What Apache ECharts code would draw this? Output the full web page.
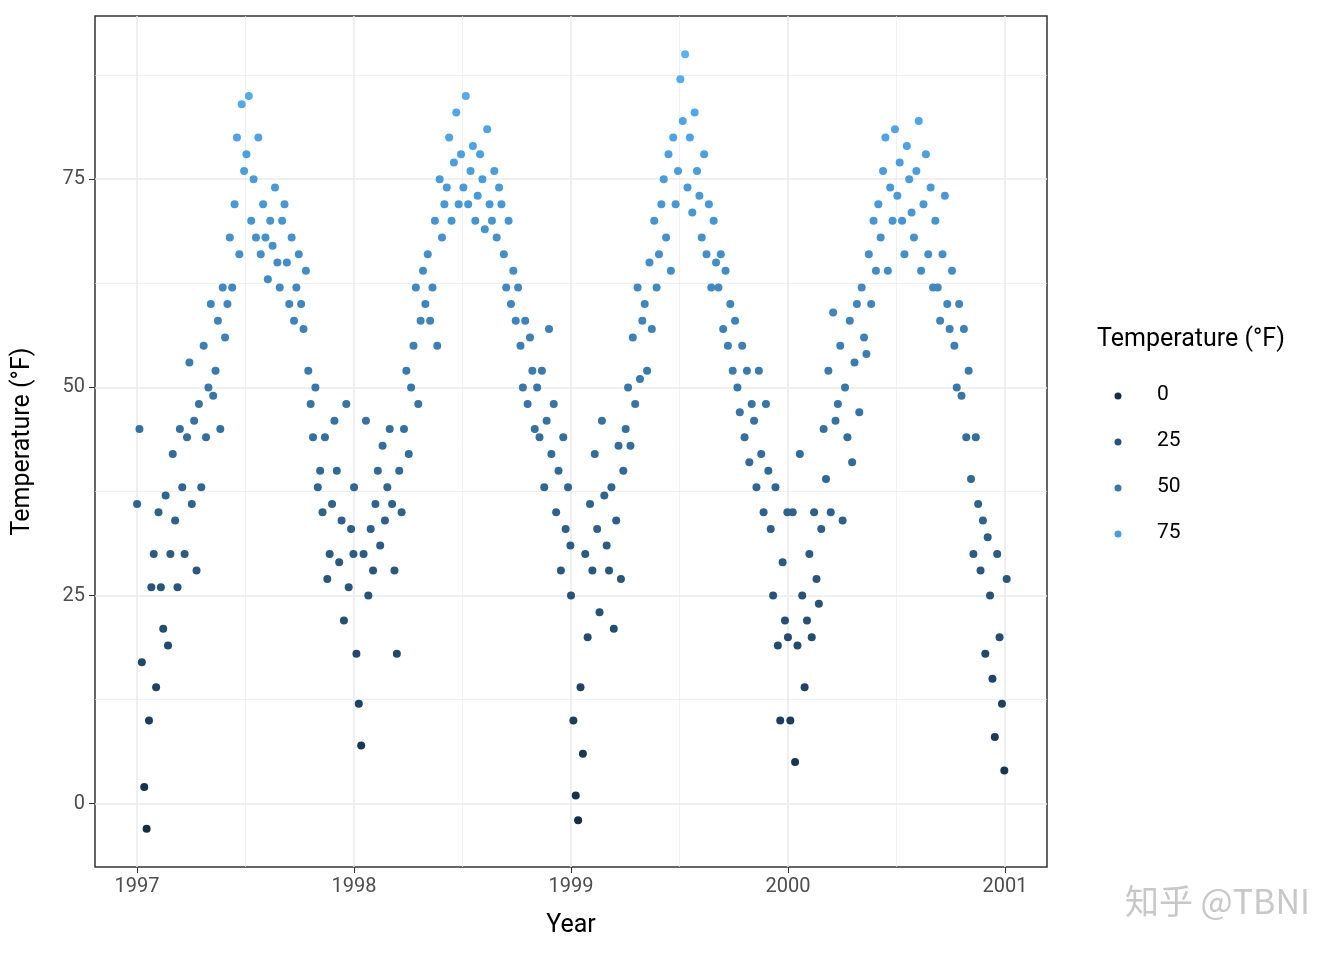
<!DOCTYPE html>
<html style="height: 100%">
<head>
    <meta charset="utf-8">
    <script src="https://cdn.jsdelivr.net/npm/echarts@6/dist/echarts.min.js"></script>
</head>
<body style="height: 100%; margin: 0; background: #fff">
<div id="main" style="width: 1344px; height: 960px"></div>
<script type="text/javascript">
    // temperatures, one value every 4 days from Jan 1
    var years = [1997, 1998, 1999, 2000];
    var temp1997 = [36,45,17,2,-3,10,26,30, 14,35,26,21,37,19,30,42, 34,26,45,38,30,44,53,36,
        46,28,48,38,55,44,50, 60,49,52,58,45,62,56,60, 68,62,72,80,66,84,76,
        78,85,70,75,68,80,66,72, 68,63,70,67,74,65,62,70, 72,65,60,68,58,62,66,
        60,57,64,52,48,44,50,38, 40,35,44,27,30,36,46, 40,29,34,22,48,26,33,30];
    var temp1998 = [38,18,12,7,30,46,25,33, 28,36,40,31,43,34,38,45, 36,28,18,40,35,45,52,42,
        50,55,62,48,58,64,60, 66,58,62,70,55,75,68,72, 74,80,70,77,83,72,78,
        74,85,72,76,79,70,73,78, 75,69,81,72,70,76,68,74, 72,66,62,70,60,64,58,
        62,55,50,58,48,56,52,45, 50,44,52,38,46,57,42, 48,35,40,28,44,33,38,31];
    var temp1999 = [25,10,1,-2,14,6,30,20, 36,28,42,33,23,46,37,31, 28,38,21,34,43,27,40,45,
        50,43,56,48,62,51,58, 60,52,65,57,70,62,66,72, 75,68,78,64,80,72,76,
        87,82,90,74,80,71,83,76, 73,68,78,66,72,62,70,65, 62,66,57,64,55,60,52,
        58,50,47,55,44,52,41,48, 46,38,52,42,35,48,40, 33,25,38,19,10,29,22,35];
    var temp2000 = [20,10,35,5,19,42,25,14, 22,30,20,35,27,24,33,45, 39,52,35,59,46,48,55,34,
        50,44,58,41,53,60,47, 62,56,54,66,60,70,64,72, 68,76,80,64,74,70,81,
        73,77,70,66,79,75,71,68, 76,82,64,72,78,66,74,62, 70,62,58,66,73,60,57,
        64,55,50,60,49,57,44,52, 39,30,44,36,28,34,18,32, 25,15,8,30,20,12,4,27];
    var yTicks = [0, 25, 50, 75];
    var xTicks = [1997, 1998, 1999, 2000, 2001];
    var legendValues = [0, 25, 50, 75];

    var tMin = -3, tMax = 90;
    var lowCol = [0x13, 0x2B, 0x43], highCol = [0x56, 0xB1, 0xF7];
    function colorOf(v) {
        var t = (v - tMin) / (tMax - tMin);
        var c = lowCol.map(function (a, i) { return Math.round(a + (highCol[i] - a) * t); });
        return 'rgb(' + c.join(',') + ')';
    }

    var points = [];
    [temp1997, temp1998, temp1999, temp2000].forEach(function (arr, k) {
        arr.forEach(function (v, i) {
            points.push([years[k] + i * 4 / 365, v]);
        });
    });

    var gridLines = [];
    xTicks.forEach(function (x) { gridLines.push({ xAxis: x, lineStyle: { width: 1.6 } }); });
    [1997.5, 1998.5, 1999.5, 2000.5].forEach(function (x) { gridLines.push({ xAxis: x, lineStyle: { width: 0.7 } }); });
    yTicks.forEach(function (y) { gridLines.push({ yAxis: y, lineStyle: { width: 1.6 } }); });
    [12.5, 37.5, 62.5, 87.5].forEach(function (y) { gridLines.push({ yAxis: y, lineStyle: { width: 0.7 } }); });

    var legendGraphics = [{
        type: 'text', left: 1097, top: 327,
        style: { text: 'Temperature (°F)', font: '25px Roboto', fill: '#000' }
    }];
    legendValues.forEach(function (v, i) {
        legendGraphics.push({ type: 'circle', shape: { cx: 1118, cy: 396 + i * 46, r: 3.5 }, style: { fill: colorOf(v) } });
        legendGraphics.push({ type: 'text', left: 1157, top: 384 + i * 46,
            style: { text: String(v), font: '21px Roboto', fill: '#000' } });
    });
    legendGraphics.push({ type: 'text', right: 34, top: 884,
        style: { text: '知乎 @TBNI', font: '34px "Noto Sans CJK SC"', fill: '#c8c8c8' } });

    var chart = echarts.init(document.getElementById('main'));
    chart.setOption({
        animation: false,
        grid: { left: 95, right: 297, top: 16, bottom: 93, show: true, borderColor: '#333', borderWidth: 1.5 },
        xAxis: {
            type: 'value', min: 1996.806, max: 2001.194,
            name: 'Year', nameLocation: 'middle', nameGap: 46,
            nameTextStyle: { fontSize: 25, fontFamily: 'Roboto', color: '#000' },
            axisLine: { show: false, onZero: false },
            splitLine: { show: false },
            axisTick: { customValues: xTicks, length: 6, lineStyle: { color: '#333' } },
            axisLabel: { customValues: xTicks, fontSize: 20, fontFamily: 'Roboto', color: '#4d4d4d', margin: 10,
                formatter: function (v) { return Math.round(v); } }
        },
        yAxis: {
            type: 'value', min: -7.6, max: 94.6,
            name: 'Temperature (°F)', nameLocation: 'middle', nameGap: 60,
            nameTextStyle: { fontSize: 25, fontFamily: 'Roboto', color: '#000' },
            axisLine: { show: false, onZero: false },
            splitLine: { show: false },
            axisTick: { customValues: yTicks, length: 6, lineStyle: { color: '#333' } },
            axisLabel: { customValues: yTicks, fontSize: 20, fontFamily: 'Roboto', color: '#4d4d4d', margin: 10 }
        },
        graphic: legendGraphics,
        series: [{
            type: 'scatter',
            data: points,
            symbolSize: 8,
            itemStyle: { opacity: 1, color: function (p) { return colorOf(p.value[1]); } },
            markLine: {
                silent: true, symbol: 'none', label: { show: false },
                lineStyle: { color: '#ebebeb', type: 'solid' },
                data: gridLines, z: 0
            }
        }]
    });
</script>
</body>
</html>
